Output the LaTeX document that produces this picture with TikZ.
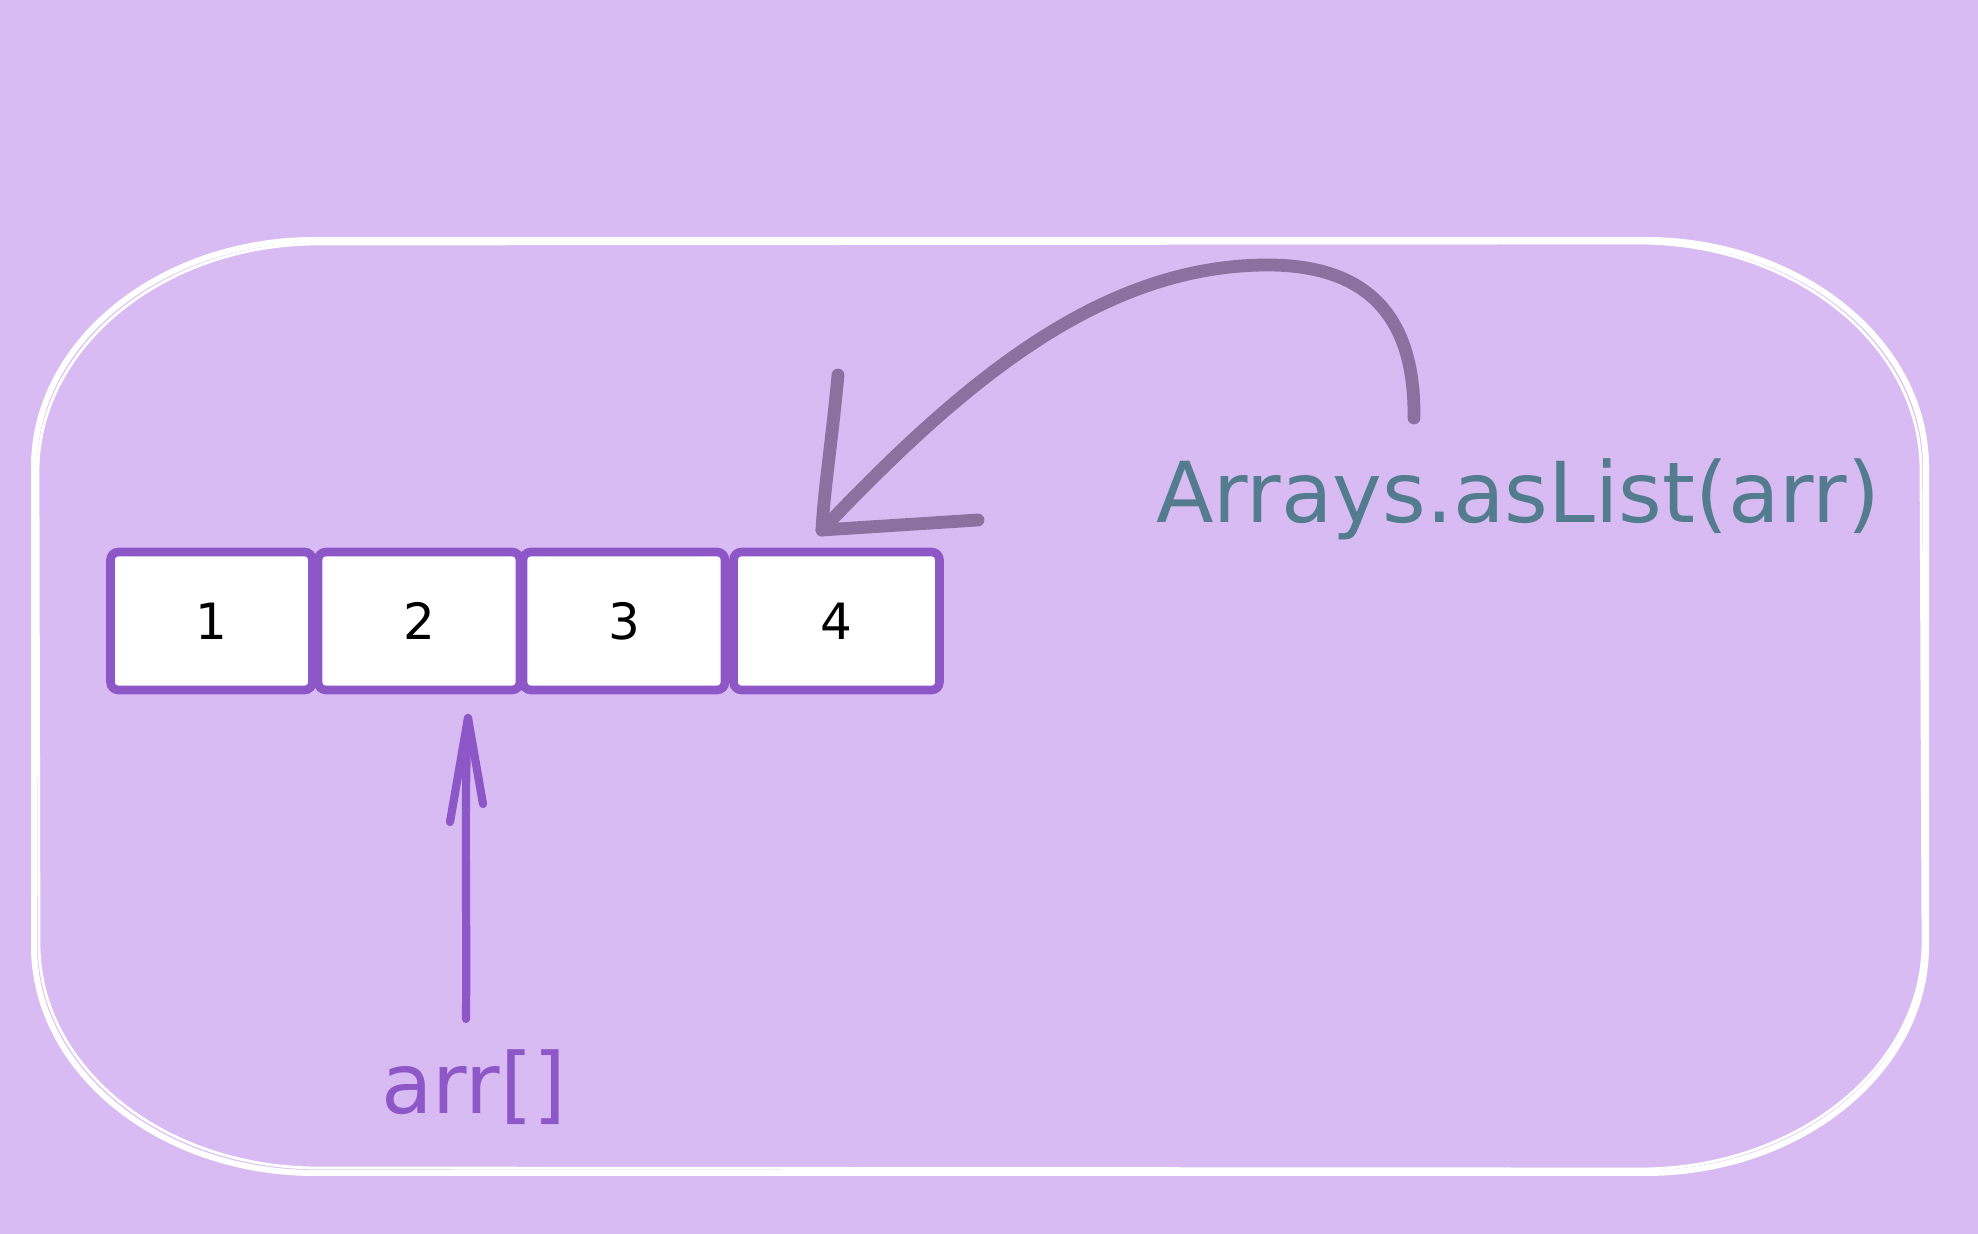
\documentclass[tikz,border=0pt]{standalone}
\usepackage{fontspec}
\newfontfamily\hand{DejaVu Sans}
\definecolor{bg}{HTML}{D8BBF2}
\definecolor{boxpurple}{HTML}{8E57C8}
\definecolor{curvec}{HTML}{8A71A0}
\definecolor{tealtext}{HTML}{537C8E}
\begin{document}
\begin{tikzpicture}[x=0.5pt,y=-0.5pt]
\tikzset{
  cell/.style={draw=boxpurple, fill=white, line width=4.3pt, rounded corners=4pt,
    minimum width=101pt, minimum height=69pt, inner sep=0pt,
    font=\hand\fontsize{25}{30}\selectfont, text=black},
  handline/.style={line width=4.1pt, line cap=round, line join=round},
  curveline/.style={curvec, line width=6.4pt, line cap=round, line join=round},
  frame/.style={white, line width=3pt},
  lbl/.style={font=\hand\fontsize{42}{50}\selectfont, anchor=base west, inner sep=0pt}
}
\fill[bg] (0,0) rectangle (1978,1234);
\useasboundingbox (0,0) rectangle (1978,1234);
% outer rounded frame (sketchy double stroke)
\draw[frame] (315,240) -- (1645,240) .. controls (1800,240) and (1926,342) .. (1926,467)
  -- (1926,946) .. controls (1926,1071) and (1800,1173) .. (1645,1173)
  -- (315,1173) .. controls (160,1173) and (34,1071) .. (34,946)
  -- (34,467) .. controls (34,342) and (160,240) .. (315,240) -- cycle;
\draw[frame, line width=1.4pt] (318,244) -- (1640,243) .. controls (1796,244) and (1921,345) .. (1921,470)
  -- (1923,944) .. controls (1922,1068) and (1797,1168) .. (1642,1169)
  -- (318,1168) .. controls (164,1168) and (39,1068) .. (39,944)
  -- (38,470) .. controls (39,346) and (164,244) .. (318,244);
% cells
\node[cell] (c1) at (211.5,621) {1};
\node[cell] (c2) at (419,621) {2};
\node[cell] (c3) at (624,621) {3};
\node[cell, minimum width=103pt] (c4) at (836.5,621) {4};
% labels
\node[lbl, text=tealtext] (lst) at (1156,523) {Arrays.asList(arr)};
\node[lbl, text=boxpurple] (arr) at (381,1114) {arr[]};
% up arrow
\coordinate (uptail) at (466,1019);
\coordinate (uptip) at (468,718);
\draw[handline, boxpurple] (uptail) .. controls (467,900) and (464,800) .. (uptip);
\draw[handline, boxpurple] (450,822) -- (uptip) -- (483,804);
% curved arrow
\coordinate (cstart) at (1414,418);
\coordinate (ctip) at (822,530);
\draw[curveline] (cstart) .. controls (1415,330) and (1380,266) .. (1270,265)
  .. controls (1100,264) and (960,385) .. (ctip);
\draw[curveline] (838,375) .. controls (832,440) and (824,490) .. (ctip) -- (978,520);
\end{tikzpicture}
\end{document}
